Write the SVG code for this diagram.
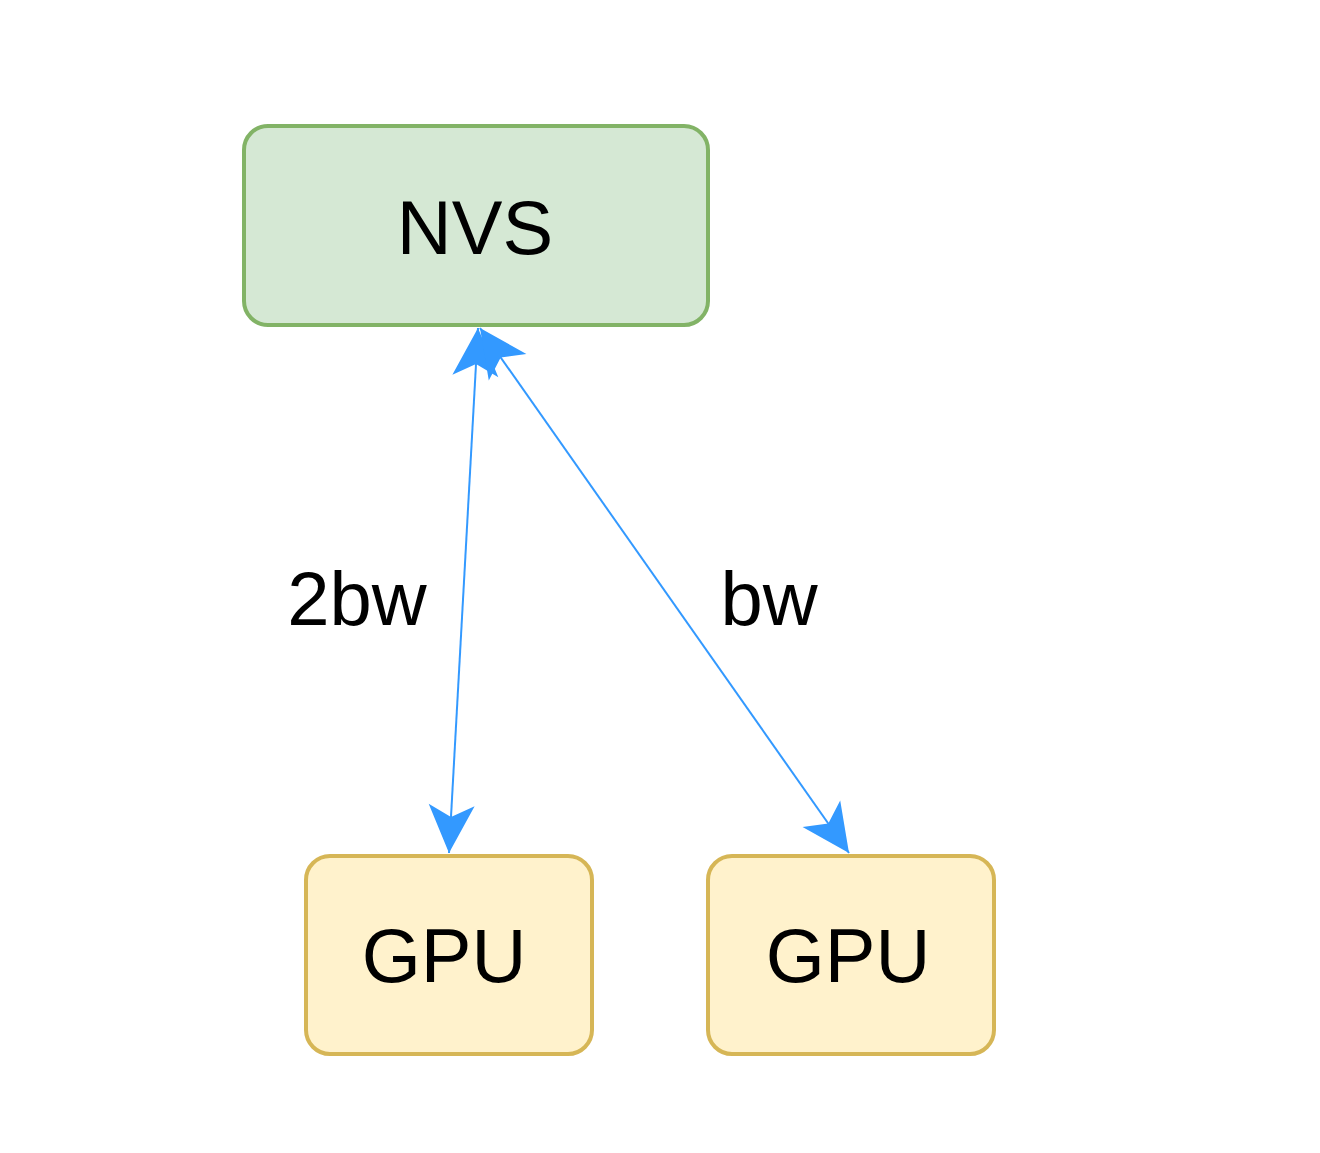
<svg xmlns="http://www.w3.org/2000/svg" width="1320" height="1153" viewBox="0 0 1320 1153">
<style>
.nvs{fill:#d5e8d4;stroke:#82b366;stroke-width:4}
.gpu{fill:#fff2cc;stroke:#d6b656;stroke-width:4}
.t{font-family:"Liberation Sans",Arial,sans-serif;font-size:76px;fill:#000;text-anchor:middle}
.edge{stroke:#3399ff;stroke-width:2;fill:none}
</style>
<defs>
<marker id="ah" markerUnits="userSpaceOnUse" markerWidth="48" markerHeight="46" refX="48" refY="23" orient="auto-start-reverse" overflow="visible">
<path d="M48,23 L0,0 L12,23 L0,46 Z" fill="#3399ff"/>
</marker>
</defs>
<rect width="1320" height="1153" fill="#fff"/>
<g id="nvs"><rect class="nvs" x="244" y="126" width="464" height="199" rx="24"/><text class="t" x="475" y="254">NVS</text></g>
<g id="gpu1"><rect class="gpu" x="306" y="856" width="286" height="198" rx="24"/><text class="t" x="444" y="982">GPU</text></g>
<g id="gpu2"><rect class="gpu" x="708" y="856" width="286" height="198" rx="24"/><text class="t" x="848" y="982">GPU</text></g>
<g id="edges">
<line class="edge" x1="478" y1="328" x2="449" y2="853" marker-start="url(#ah)" marker-end="url(#ah)"/>
<line class="edge" x1="480" y1="328" x2="849" y2="853" marker-start="url(#ah)" marker-end="url(#ah)"/>
<text class="t" x="357" y="625">2bw</text>
<text class="t" x="769" y="625">bw</text>
</g>
</svg>
